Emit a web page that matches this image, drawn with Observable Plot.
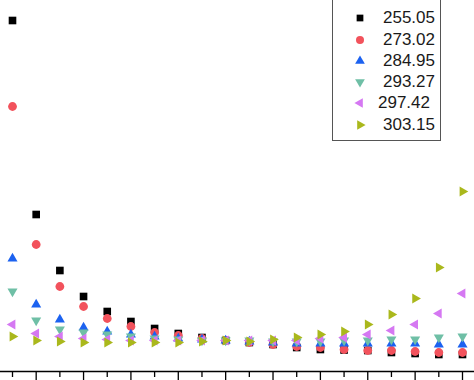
<!DOCTYPE html>
<html>
<head>
<meta charset="utf-8">
<script src="https://cdn.jsdelivr.net/npm/d3@7"></script>
<script src="https://cdn.jsdelivr.net/npm/@observablehq/plot@0.6"></script>
<style>
  html, body { margin: 0; padding: 0; background: #fff; }
  #wrap { position: relative; width: 474px; height: 380px; overflow: hidden; background: #fff; }
  #wrap svg.plot { position: absolute; left: 0; top: 0; }
  #legend { position: absolute; left: 332px; top: -2px; width: 109px; height: 143px; box-sizing: border-box;
            border: 1px solid #555; background: #fff; }
  .lrow { position: absolute; left: 0; height: 20px; width: 107px; }
  .lrow svg { position: absolute; left: 17px; top: 0; }
  .lrow span { position: absolute; left: 50px; top: 0; line-height: 20px; font: 17px "Liberation Sans", Arial, sans-serif; color: #1a1a1a; }
</style>
</head>
<body>
<div id="wrap"></div>
<script>
// ---- data ----
const index = [1,2,3,4,5,6,7,8,9,10,11,12,13,14,15,16,17,18,19,20];
const seriesNames = ["255.05", "273.02", "284.95", "293.27", "297.42", "303.15"];
const s255 = [35.1,15.7,10.1,7.5,6.0,5.0,4.3,3.8,3.4,3.1,2.9,2.7,2.4,2.2,2.15,2.1,1.9,1.8,1.7,1.7];
const s273 = [26.5,12.7,8.5,6.5,5.3,4.5,3.9,3.6,3.3,3.1,2.9,2.7,2.5,2.4,2.2,2.1,2.1,2.0,1.9,1.9];
const s285 = [11.3,6.7,5.2,4.4,4.0,3.7,3.5,3.3,3.2,3.1,3.0,2.9,2.8,2.8,2.8,2.8,2.8,2.8,2.7,2.7];
const s293 = [8.0,5.1,4.2,3.9,3.7,3.5,3.3,3.2,3.1,3.1,3.1,3.0,3.0,3.0,3.1,3.1,3.2,3.2,3.4,3.5];
const s297 = [4.7,3.8,3.5,3.3,3.2,3.1,3.1,3.1,3.1,3.1,3.1,3.1,3.1,3.3,3.4,3.7,4.1,4.7,5.8,7.8];
const s303 = [3.5,3.1,3.0,2.9,2.9,2.9,2.9,2.9,3.0,3.1,3.0,3.2,3.4,3.7,4.0,4.7,5.7,7.3,10.4,18.0];
const majorTicks = [2,4,6,8,10,12,14,16,18,20];
const minorTicks = [1,3,5,7,9,11,13,15,17,19];

// ---- styles ----
const colors = ["#000000", "#f2525c", "#1c62f0", "#6fbfa6", "#d578f2", "#aab81c"];
function tri(angle) {
  return {
    draw(ctx, size) {
      const R = Math.sqrt(size / Math.PI);
      for (let k = 0; k < 3; k++) {
        const a = angle + k * 2 * Math.PI / 3;
        const x = R * Math.cos(a), y = R * Math.sin(a);
        if (k === 0) ctx.moveTo(x, y); else ctx.lineTo(x, y);
      }
      ctx.closePath();
    }
  };
}
const symbols = [d3.symbolSquare, d3.symbolCircle, tri(-Math.PI/2), tri(Math.PI/2), tri(Math.PI), tri(0)];
const radii = [4.3, 4.4, 5.8, 5.8, 5.8, 5.8];
const allSeries = [s255, s273, s285, s293, s297, s303];

const dotMarks = allSeries.map((vals, i) =>
  Plot.dot(index.map((x, j) => ({x, y: vals[j]})), {
    x: "x", y: "y", symbol: symbols[i], r: radii[i], fill: colors[i], stroke: "none"
  })
);

const chart = Plot.plot({
  width: 474, height: 380,
  marginLeft: 0, marginRight: 0, marginTop: 0, marginBottom: 0,
  x: {domain: [1 - 12/23.684, 1 + 462/23.684], axis: null},
  y: {domain: [-0.9, 37.1], axis: null},
  style: {background: "transparent", overflow: "visible"},
  marks: [
    ...dotMarks,
    Plot.ruleY([0], {stroke: "#000", strokeWidth: 1.5}),
    Plot.ruleX(majorTicks, {x: d => d, y1: 0, y2: -0.95, stroke: "#000", strokeWidth: 1.3}),
    Plot.ruleX(minorTicks, {x: d => d, y1: 0, y2: -0.6, stroke: "#000", strokeWidth: 1.3})
  ]
});
chart.classList.add("plot");
const wrap = document.getElementById("wrap");
wrap.appendChild(chart);

// ---- legend ----
const legend = document.createElement("div");
legend.id = "legend";
wrap.appendChild(legend);
const rowCenters = [19, 41, 62, 83, 104, 126];
const legendR = [3.8, 4.0, 5.6, 5.6, 5.6, 5.6];
seriesNames.forEach((name, i) => {
  const row = document.createElement("div");
  row.className = "lrow";
  row.style.top = (rowCenters[i] - 10) + "px";
  const svg = d3.create("svg").attr("width", 20).attr("height", 20);
  svg.append("path")
    .attr("transform", "translate(10,10)")
    .attr("d", d3.symbol(symbols[i], Math.PI * legendR[i] * legendR[i])())
    .attr("fill", colors[i]);
  row.appendChild(svg.node());
  const sp = document.createElement("span");
  sp.textContent = name;
  if (name === "297.42") sp.style.left = "45px";
  row.appendChild(sp);
  legend.appendChild(row);
});
</script>
</body>
</html>
